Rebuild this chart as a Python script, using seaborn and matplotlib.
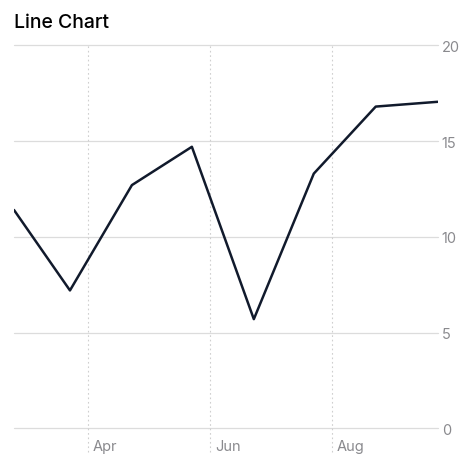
import pandas as pd
import matplotlib.pyplot as plt
import matplotlib.transforms as mtransforms
import seaborn as sns

# data
dates = ["2023-02-23", "2023-03-23", "2023-04-23", "2023-05-23",
         "2023-06-23", "2023-07-23", "2023-08-23", "2023-09-23"]
values = [11.4, 7.2, 12.7, 14.7, 5.7, 13.3, 16.8, 17.05]
month_ticks = ["2023-04-01", "2023-06-01", "2023-08-01"]
month_labels = ["Apr", "Jun", "Aug"]
y_ticks = [0, 5, 10, 15, 20]

df = pd.DataFrame({"date": pd.to_datetime(dates), "value": values})

sns.set_style("white")
plt.rcParams["font.family"] = ["Inter", "DejaVu Sans"]

fig = plt.figure(figsize=(4.74, 4.77), dpi=100)
ax = fig.add_axes([14 / 474, 1 - 429.3 / 477, (437.7 - 14) / 474, (429.3 - 46.3) / 477])

sns.lineplot(data=df, x="date", y="value", ax=ax, color="#111a2c", linewidth=1.8)

ax.set_xlim(df["date"].min(), df["date"].max())
ax.set_ylim(0, 20)

# horizontal grid
for y in y_ticks:
    ax.axhline(y, color="#dcdcdc", linewidth=0.9, zorder=0, clip_on=False)

# dotted vertical lines per month, running below the axis
tick_dates = pd.to_datetime(month_ticks)
for d in tick_dates:
    ax.axvline(d, ymin=-0.063, ymax=1, color="#cfcfcf", linewidth=0.8,
               linestyle=(0, (1.5, 2.5)), clip_on=False, zorder=0)

ax.set_xticks(tick_dates)
ax.set_xticklabels(month_labels)
ax.tick_params(axis="x", length=0, pad=8, labelsize=10.5, labelcolor="#8a8a8e")
offset = mtransforms.ScaledTranslation(5 / 100, 0, fig.dpi_scale_trans)
for lbl in ax.get_xticklabels():
    lbl.set_horizontalalignment("left")
    lbl.set_transform(lbl.get_transform() + offset)

ax.yaxis.tick_right()
ax.set_yticks(y_ticks)
ax.tick_params(axis="y", length=0, pad=3, labelsize=10.5, labelcolor="#8a8a8e")
for lbl in ax.get_yticklabels():
    lbl.set_horizontalalignment("left")

ax.set_xlabel("")
ax.set_ylabel("")
sns.despine(ax=ax, left=True, bottom=True, right=True, top=True)

fig.text(14 / 474, 1 - 23 / 477, "Line Chart", fontsize=14, fontweight="medium",
         color="black", va="center", ha="left")

fig.savefig("out.png", dpi=100, facecolor="white")
